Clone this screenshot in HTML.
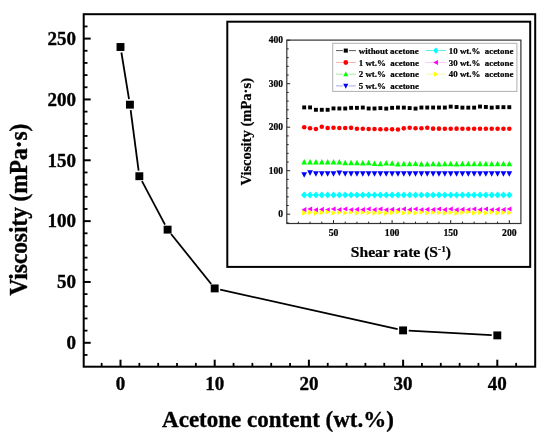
<!DOCTYPE html><html><head><meta charset="utf-8"><title>Viscosity vs acetone content</title><style>html,body{margin:0;padding:0;background:#fff}svg{display:block}text{font-family:"Liberation Serif",serif;font-weight:bold;fill:#000;stroke:#000;stroke-width:0.35px;stroke-linejoin:round}.s text{stroke-width:0.22px}</style></head><body>
<svg width="550" height="441" viewBox="0 0 550 441">
<rect width="550" height="441" fill="#fff"/>
<rect x="83.7" y="14.2" width="451.50000000000006" height="352.5" fill="none" stroke="#000" stroke-width="2"/>
<line x1="83.7" y1="354.97" x2="87.5" y2="354.97" stroke="#000" stroke-width="1.8"/>
<line x1="83.7" y1="342.80" x2="90.7" y2="342.80" stroke="#000" stroke-width="2"/>
<text x="76" y="349.10" font-size="19" text-anchor="end">0</text>
<line x1="83.7" y1="330.63" x2="87.5" y2="330.63" stroke="#000" stroke-width="1.8"/>
<line x1="83.7" y1="318.46" x2="87.5" y2="318.46" stroke="#000" stroke-width="1.8"/>
<line x1="83.7" y1="306.30" x2="87.5" y2="306.30" stroke="#000" stroke-width="1.8"/>
<line x1="83.7" y1="294.13" x2="87.5" y2="294.13" stroke="#000" stroke-width="1.8"/>
<line x1="83.7" y1="281.96" x2="90.7" y2="281.96" stroke="#000" stroke-width="2"/>
<text x="76" y="288.26" font-size="19" text-anchor="end">50</text>
<line x1="83.7" y1="269.79" x2="87.5" y2="269.79" stroke="#000" stroke-width="1.8"/>
<line x1="83.7" y1="257.62" x2="87.5" y2="257.62" stroke="#000" stroke-width="1.8"/>
<line x1="83.7" y1="245.46" x2="87.5" y2="245.46" stroke="#000" stroke-width="1.8"/>
<line x1="83.7" y1="233.29" x2="87.5" y2="233.29" stroke="#000" stroke-width="1.8"/>
<line x1="83.7" y1="221.12" x2="90.7" y2="221.12" stroke="#000" stroke-width="2"/>
<text x="76" y="227.42" font-size="19" text-anchor="end">100</text>
<line x1="83.7" y1="208.95" x2="87.5" y2="208.95" stroke="#000" stroke-width="1.8"/>
<line x1="83.7" y1="196.78" x2="87.5" y2="196.78" stroke="#000" stroke-width="1.8"/>
<line x1="83.7" y1="184.62" x2="87.5" y2="184.62" stroke="#000" stroke-width="1.8"/>
<line x1="83.7" y1="172.45" x2="87.5" y2="172.45" stroke="#000" stroke-width="1.8"/>
<line x1="83.7" y1="160.28" x2="90.7" y2="160.28" stroke="#000" stroke-width="2"/>
<text x="76" y="166.58" font-size="19" text-anchor="end">150</text>
<line x1="83.7" y1="148.11" x2="87.5" y2="148.11" stroke="#000" stroke-width="1.8"/>
<line x1="83.7" y1="135.94" x2="87.5" y2="135.94" stroke="#000" stroke-width="1.8"/>
<line x1="83.7" y1="123.78" x2="87.5" y2="123.78" stroke="#000" stroke-width="1.8"/>
<line x1="83.7" y1="111.61" x2="87.5" y2="111.61" stroke="#000" stroke-width="1.8"/>
<line x1="83.7" y1="99.44" x2="90.7" y2="99.44" stroke="#000" stroke-width="2"/>
<text x="76" y="105.74" font-size="19" text-anchor="end">200</text>
<line x1="83.7" y1="87.27" x2="87.5" y2="87.27" stroke="#000" stroke-width="1.8"/>
<line x1="83.7" y1="75.10" x2="87.5" y2="75.10" stroke="#000" stroke-width="1.8"/>
<line x1="83.7" y1="62.94" x2="87.5" y2="62.94" stroke="#000" stroke-width="1.8"/>
<line x1="83.7" y1="50.77" x2="87.5" y2="50.77" stroke="#000" stroke-width="1.8"/>
<line x1="83.7" y1="38.60" x2="90.7" y2="38.60" stroke="#000" stroke-width="2"/>
<text x="76" y="44.90" font-size="19" text-anchor="end">250</text>
<line x1="83.7" y1="26.43" x2="87.5" y2="26.43" stroke="#000" stroke-width="1.8"/>
<line x1="101.66" y1="366.7" x2="101.66" y2="362.9" stroke="#000" stroke-width="1.8"/>
<line x1="120.50" y1="366.7" x2="120.50" y2="359.7" stroke="#000" stroke-width="2"/>
<text x="120.50" y="390.4" font-size="19" text-anchor="middle">0</text>
<line x1="139.34" y1="366.7" x2="139.34" y2="362.9" stroke="#000" stroke-width="1.8"/>
<line x1="158.18" y1="366.7" x2="158.18" y2="362.9" stroke="#000" stroke-width="1.8"/>
<line x1="177.02" y1="366.7" x2="177.02" y2="362.9" stroke="#000" stroke-width="1.8"/>
<line x1="195.86" y1="366.7" x2="195.86" y2="362.9" stroke="#000" stroke-width="1.8"/>
<line x1="214.70" y1="366.7" x2="214.70" y2="359.7" stroke="#000" stroke-width="2"/>
<text x="214.70" y="390.4" font-size="19" text-anchor="middle">10</text>
<line x1="233.54" y1="366.7" x2="233.54" y2="362.9" stroke="#000" stroke-width="1.8"/>
<line x1="252.38" y1="366.7" x2="252.38" y2="362.9" stroke="#000" stroke-width="1.8"/>
<line x1="271.22" y1="366.7" x2="271.22" y2="362.9" stroke="#000" stroke-width="1.8"/>
<line x1="290.06" y1="366.7" x2="290.06" y2="362.9" stroke="#000" stroke-width="1.8"/>
<line x1="308.90" y1="366.7" x2="308.90" y2="359.7" stroke="#000" stroke-width="2"/>
<text x="308.90" y="390.4" font-size="19" text-anchor="middle">20</text>
<line x1="327.74" y1="366.7" x2="327.74" y2="362.9" stroke="#000" stroke-width="1.8"/>
<line x1="346.58" y1="366.7" x2="346.58" y2="362.9" stroke="#000" stroke-width="1.8"/>
<line x1="365.42" y1="366.7" x2="365.42" y2="362.9" stroke="#000" stroke-width="1.8"/>
<line x1="384.26" y1="366.7" x2="384.26" y2="362.9" stroke="#000" stroke-width="1.8"/>
<line x1="403.10" y1="366.7" x2="403.10" y2="359.7" stroke="#000" stroke-width="2"/>
<text x="403.10" y="390.4" font-size="19" text-anchor="middle">30</text>
<line x1="421.94" y1="366.7" x2="421.94" y2="362.9" stroke="#000" stroke-width="1.8"/>
<line x1="440.78" y1="366.7" x2="440.78" y2="362.9" stroke="#000" stroke-width="1.8"/>
<line x1="459.62" y1="366.7" x2="459.62" y2="362.9" stroke="#000" stroke-width="1.8"/>
<line x1="478.46" y1="366.7" x2="478.46" y2="362.9" stroke="#000" stroke-width="1.8"/>
<line x1="497.30" y1="366.7" x2="497.30" y2="359.7" stroke="#000" stroke-width="2"/>
<text x="497.30" y="390.4" font-size="19" text-anchor="middle">40</text>
<line x1="516.14" y1="366.7" x2="516.14" y2="362.9" stroke="#000" stroke-width="1.8"/>
<text x="278" y="426.5" font-size="23" text-anchor="middle">Acetone content (wt.%)</text>
<text transform="translate(27.2,209.7) rotate(-90) scale(1,1.05)" font-size="23.3" text-anchor="middle">Viscosity (mPa·s)</text>
<line x1="121.40" y1="52.52" x2="129.02" y2="99.15" stroke="#000" stroke-width="1.8"/>
<line x1="130.65" y1="110.22" x2="138.61" y2="170.67" stroke="#000" stroke-width="1.8"/>
<line x1="141.96" y1="181.17" x2="164.98" y2="224.69" stroke="#000" stroke-width="1.8"/>
<line x1="171.10" y1="234.01" x2="211.20" y2="284.04" stroke="#000" stroke-width="1.8"/>
<line x1="220.17" y1="289.63" x2="397.63" y2="329.17" stroke="#000" stroke-width="1.8"/>
<line x1="408.69" y1="330.68" x2="491.71" y2="335.08" stroke="#000" stroke-width="1.8"/>
<rect x="116.55" y="43.05" width="7.9" height="7.9" fill="#000"/>
<rect x="125.97" y="100.72" width="7.9" height="7.9" fill="#000"/>
<rect x="135.39" y="172.27" width="7.9" height="7.9" fill="#000"/>
<rect x="163.65" y="225.69" width="7.9" height="7.9" fill="#000"/>
<rect x="210.75" y="284.46" width="7.9" height="7.9" fill="#000"/>
<rect x="399.15" y="326.44" width="7.9" height="7.9" fill="#000"/>
<rect x="493.35" y="331.43" width="7.9" height="7.9" fill="#000"/>
<g class="s">
<rect x="227.3" y="21.7" width="302.90000000000003" height="245.2" fill="#fff" stroke="#000" stroke-width="2"/>
<rect x="286.8" y="40.1" width="234.09999999999997" height="183.4" fill="#fff" stroke="#333" stroke-width="1.2"/>
<line x1="286.8" y1="222.90" x2="288.7" y2="222.90" stroke="#222" stroke-width="1"/>
<line x1="286.8" y1="214.20" x2="290.2" y2="214.20" stroke="#222" stroke-width="1"/>
<text x="283" y="217.40" font-size="9.5" text-anchor="end">0</text>
<line x1="286.8" y1="205.50" x2="288.7" y2="205.50" stroke="#222" stroke-width="1"/>
<line x1="286.8" y1="196.80" x2="288.7" y2="196.80" stroke="#222" stroke-width="1"/>
<line x1="286.8" y1="188.10" x2="288.7" y2="188.10" stroke="#222" stroke-width="1"/>
<line x1="286.8" y1="179.40" x2="288.7" y2="179.40" stroke="#222" stroke-width="1"/>
<line x1="286.8" y1="170.70" x2="290.2" y2="170.70" stroke="#222" stroke-width="1"/>
<text x="283" y="173.90" font-size="9.5" text-anchor="end">100</text>
<line x1="286.8" y1="162.00" x2="288.7" y2="162.00" stroke="#222" stroke-width="1"/>
<line x1="286.8" y1="153.30" x2="288.7" y2="153.30" stroke="#222" stroke-width="1"/>
<line x1="286.8" y1="144.60" x2="288.7" y2="144.60" stroke="#222" stroke-width="1"/>
<line x1="286.8" y1="135.90" x2="288.7" y2="135.90" stroke="#222" stroke-width="1"/>
<line x1="286.8" y1="127.20" x2="290.2" y2="127.20" stroke="#222" stroke-width="1"/>
<text x="283" y="130.40" font-size="9.5" text-anchor="end">200</text>
<line x1="286.8" y1="118.50" x2="288.7" y2="118.50" stroke="#222" stroke-width="1"/>
<line x1="286.8" y1="109.80" x2="288.7" y2="109.80" stroke="#222" stroke-width="1"/>
<line x1="286.8" y1="101.10" x2="288.7" y2="101.10" stroke="#222" stroke-width="1"/>
<line x1="286.8" y1="92.40" x2="288.7" y2="92.40" stroke="#222" stroke-width="1"/>
<line x1="286.8" y1="83.70" x2="290.2" y2="83.70" stroke="#222" stroke-width="1"/>
<text x="283" y="86.90" font-size="9.5" text-anchor="end">300</text>
<line x1="286.8" y1="75.00" x2="288.7" y2="75.00" stroke="#222" stroke-width="1"/>
<line x1="286.8" y1="66.30" x2="288.7" y2="66.30" stroke="#222" stroke-width="1"/>
<line x1="286.8" y1="57.60" x2="288.7" y2="57.60" stroke="#222" stroke-width="1"/>
<line x1="286.8" y1="48.90" x2="288.7" y2="48.90" stroke="#222" stroke-width="1"/>
<line x1="286.8" y1="40.20" x2="290.2" y2="40.20" stroke="#222" stroke-width="1"/>
<text x="283" y="43.40" font-size="9.5" text-anchor="end">400</text>
<line x1="298.34" y1="223.5" x2="298.34" y2="221.6" stroke="#222" stroke-width="1"/>
<line x1="310.06" y1="223.5" x2="310.06" y2="221.6" stroke="#222" stroke-width="1"/>
<line x1="321.78" y1="223.5" x2="321.78" y2="221.6" stroke="#222" stroke-width="1"/>
<line x1="333.50" y1="223.5" x2="333.50" y2="220.1" stroke="#222" stroke-width="1"/>
<text x="333.50" y="235.8" font-size="9.7" text-anchor="middle">50</text>
<line x1="345.22" y1="223.5" x2="345.22" y2="221.6" stroke="#222" stroke-width="1"/>
<line x1="356.94" y1="223.5" x2="356.94" y2="221.6" stroke="#222" stroke-width="1"/>
<line x1="368.66" y1="223.5" x2="368.66" y2="221.6" stroke="#222" stroke-width="1"/>
<line x1="380.38" y1="223.5" x2="380.38" y2="221.6" stroke="#222" stroke-width="1"/>
<line x1="392.10" y1="223.5" x2="392.10" y2="220.1" stroke="#222" stroke-width="1"/>
<text x="392.10" y="235.8" font-size="9.7" text-anchor="middle">100</text>
<line x1="403.82" y1="223.5" x2="403.82" y2="221.6" stroke="#222" stroke-width="1"/>
<line x1="415.54" y1="223.5" x2="415.54" y2="221.6" stroke="#222" stroke-width="1"/>
<line x1="427.26" y1="223.5" x2="427.26" y2="221.6" stroke="#222" stroke-width="1"/>
<line x1="438.98" y1="223.5" x2="438.98" y2="221.6" stroke="#222" stroke-width="1"/>
<line x1="450.70" y1="223.5" x2="450.70" y2="220.1" stroke="#222" stroke-width="1"/>
<text x="450.70" y="235.8" font-size="9.7" text-anchor="middle">150</text>
<line x1="462.42" y1="223.5" x2="462.42" y2="221.6" stroke="#222" stroke-width="1"/>
<line x1="474.14" y1="223.5" x2="474.14" y2="221.6" stroke="#222" stroke-width="1"/>
<line x1="485.86" y1="223.5" x2="485.86" y2="221.6" stroke="#222" stroke-width="1"/>
<line x1="497.58" y1="223.5" x2="497.58" y2="221.6" stroke="#222" stroke-width="1"/>
<line x1="509.30" y1="223.5" x2="509.30" y2="220.1" stroke="#222" stroke-width="1"/>
<text x="509.30" y="235.8" font-size="9.7" text-anchor="middle">200</text>
<text transform="translate(250.8,131.8) rotate(-90) scale(1,1.04)" font-size="14.6" text-anchor="middle">Viscosity (mPa·s)</text>
<text transform="translate(350.8,256.9) scale(1.1,1)" font-size="14.2">Shear rate (S<tspan font-size="8.5" dy="-5">-1</tspan><tspan dy="5">)</tspan></text>
<rect x="332.7" y="43.3" width="184.2" height="48.10000000000001" fill="#fff" stroke="#b0b0b0" stroke-width="1"/>
<line x1="336" y1="50.6" x2="342.90000000000003" y2="50.6" stroke="#5a5a5a" stroke-width="1"/>
<line x1="348.90000000000003" y1="50.6" x2="355.9" y2="50.6" stroke="#5a5a5a" stroke-width="1"/>
<rect x="343.75" y="48.55" width="4.09" height="4.09" fill="#000"/>
<text x="358.8" y="53.60" font-size="8.9" xml:space="preserve">without acetone</text>
<line x1="336" y1="62.5" x2="342.90000000000003" y2="62.5" stroke="#f8b4b4" stroke-width="1"/>
<line x1="348.90000000000003" y1="62.5" x2="355.9" y2="62.5" stroke="#f8b4b4" stroke-width="1"/>
<circle cx="345.80" cy="62.50" r="2.42" fill="#ff0000"/>
<text x="358.8" y="65.50" font-size="8.9" xml:space="preserve">1 wt.%  acetone</text>
<line x1="336" y1="74.2" x2="342.90000000000003" y2="74.2" stroke="#a4eca4" stroke-width="1"/>
<line x1="348.90000000000003" y1="74.2" x2="355.9" y2="74.2" stroke="#a4eca4" stroke-width="1"/>
<polygon fill="#00ff00" points="345.80,71.41 348.41,76.36 343.19,76.36"/>
<text x="358.8" y="77.20" font-size="8.9" xml:space="preserve">2 wt.%  acetone</text>
<line x1="336" y1="85.9" x2="342.90000000000003" y2="85.9" stroke="#a6a6ea" stroke-width="1"/>
<line x1="348.90000000000003" y1="85.9" x2="355.9" y2="85.9" stroke="#a6a6ea" stroke-width="1"/>
<polygon fill="#0000ff" points="345.80,88.69 348.41,83.74 343.19,83.74"/>
<text x="358.8" y="88.90" font-size="8.9" xml:space="preserve">5 wt.%  acetone</text>
<line x1="425.8" y1="50.6" x2="433.0" y2="50.6" stroke="#5ee8e8" stroke-width="1"/>
<line x1="439.0" y1="50.6" x2="446.2" y2="50.6" stroke="#5ee8e8" stroke-width="1"/>
<polygon fill="#00ffff" points="435.90,47.45 438.78,50.60 435.90,53.75 433.02,50.60"/>
<text x="448.8" y="53.60" font-size="8.9" xml:space="preserve">10 wt.%  acetone</text>
<line x1="425.8" y1="62.5" x2="433.0" y2="62.5" stroke="#f8ccf4" stroke-width="1"/>
<line x1="439.0" y1="62.5" x2="446.2" y2="62.5" stroke="#f8ccf4" stroke-width="1"/>
<polygon fill="#ff00ff" points="433.11,62.50 438.06,59.89 438.06,65.11"/>
<text x="448.8" y="65.50" font-size="8.9" xml:space="preserve">30 wt.%  acetone</text>
<line x1="425.8" y1="74.2" x2="433.0" y2="74.2" stroke="#f5f5b0" stroke-width="1"/>
<line x1="439.0" y1="74.2" x2="446.2" y2="74.2" stroke="#f5f5b0" stroke-width="1"/>
<polygon fill="#ffff00" points="438.69,74.20 433.74,71.59 433.74,76.81"/>
<text x="448.8" y="77.20" font-size="8.9" xml:space="preserve">40 wt.%  acetone</text>
<rect x="302.25" y="105.46" width="3.90" height="3.90" fill="#000"/>
<rect x="308.11" y="105.46" width="3.90" height="3.90" fill="#000"/>
<rect x="313.97" y="107.85" width="3.90" height="3.90" fill="#000"/>
<rect x="319.83" y="107.85" width="3.90" height="3.90" fill="#000"/>
<rect x="325.69" y="107.85" width="3.90" height="3.90" fill="#000"/>
<rect x="331.55" y="106.46" width="3.90" height="3.90" fill="#000"/>
<rect x="337.41" y="106.54" width="3.90" height="3.90" fill="#000"/>
<rect x="343.27" y="106.54" width="3.90" height="3.90" fill="#000"/>
<rect x="349.13" y="105.89" width="3.90" height="3.90" fill="#000"/>
<rect x="354.99" y="105.89" width="3.90" height="3.90" fill="#000"/>
<rect x="360.85" y="105.59" width="3.90" height="3.90" fill="#000"/>
<rect x="366.71" y="106.54" width="3.90" height="3.90" fill="#000"/>
<rect x="372.57" y="106.54" width="3.90" height="3.90" fill="#000"/>
<rect x="378.43" y="106.15" width="3.90" height="3.90" fill="#000"/>
<rect x="384.29" y="106.68" width="3.90" height="3.90" fill="#000"/>
<rect x="390.15" y="105.89" width="3.90" height="3.90" fill="#000"/>
<rect x="396.01" y="105.59" width="3.90" height="3.90" fill="#000"/>
<rect x="401.87" y="105.67" width="3.90" height="3.90" fill="#000"/>
<rect x="407.73" y="106.11" width="3.90" height="3.90" fill="#000"/>
<rect x="413.59" y="106.63" width="3.90" height="3.90" fill="#000"/>
<rect x="419.45" y="105.59" width="3.90" height="3.90" fill="#000"/>
<rect x="425.31" y="105.59" width="3.90" height="3.90" fill="#000"/>
<rect x="431.17" y="105.59" width="3.90" height="3.90" fill="#000"/>
<rect x="437.03" y="105.59" width="3.90" height="3.90" fill="#000"/>
<rect x="442.89" y="105.59" width="3.90" height="3.90" fill="#000"/>
<rect x="448.75" y="104.67" width="3.90" height="3.90" fill="#000"/>
<rect x="454.61" y="105.07" width="3.90" height="3.90" fill="#000"/>
<rect x="460.47" y="105.67" width="3.90" height="3.90" fill="#000"/>
<rect x="466.33" y="105.67" width="3.90" height="3.90" fill="#000"/>
<rect x="472.19" y="105.67" width="3.90" height="3.90" fill="#000"/>
<rect x="478.05" y="104.59" width="3.90" height="3.90" fill="#000"/>
<rect x="483.91" y="105.02" width="3.90" height="3.90" fill="#000"/>
<rect x="489.77" y="105.67" width="3.90" height="3.90" fill="#000"/>
<rect x="495.63" y="105.24" width="3.90" height="3.90" fill="#000"/>
<rect x="501.49" y="105.24" width="3.90" height="3.90" fill="#000"/>
<rect x="507.35" y="105.24" width="3.90" height="3.90" fill="#000"/>
<circle cx="304.20" cy="127.29" r="2.30" fill="#ff0000"/>
<circle cx="310.06" cy="128.20" r="2.30" fill="#ff0000"/>
<circle cx="315.92" cy="128.98" r="2.30" fill="#ff0000"/>
<circle cx="321.78" cy="126.81" r="2.30" fill="#ff0000"/>
<circle cx="327.64" cy="127.98" r="2.30" fill="#ff0000"/>
<circle cx="333.50" cy="127.81" r="2.30" fill="#ff0000"/>
<circle cx="339.36" cy="128.07" r="2.30" fill="#ff0000"/>
<circle cx="345.22" cy="128.07" r="2.30" fill="#ff0000"/>
<circle cx="351.08" cy="127.85" r="2.30" fill="#ff0000"/>
<circle cx="356.94" cy="128.81" r="2.30" fill="#ff0000"/>
<circle cx="362.80" cy="128.81" r="2.30" fill="#ff0000"/>
<circle cx="368.66" cy="128.94" r="2.30" fill="#ff0000"/>
<circle cx="374.52" cy="128.94" r="2.30" fill="#ff0000"/>
<circle cx="380.38" cy="129.29" r="2.30" fill="#ff0000"/>
<circle cx="386.24" cy="129.29" r="2.30" fill="#ff0000"/>
<circle cx="392.10" cy="129.29" r="2.30" fill="#ff0000"/>
<circle cx="397.96" cy="129.51" r="2.30" fill="#ff0000"/>
<circle cx="403.82" cy="128.33" r="2.30" fill="#ff0000"/>
<circle cx="409.68" cy="127.72" r="2.30" fill="#ff0000"/>
<circle cx="415.54" cy="128.20" r="2.30" fill="#ff0000"/>
<circle cx="421.40" cy="128.20" r="2.30" fill="#ff0000"/>
<circle cx="427.26" cy="127.72" r="2.30" fill="#ff0000"/>
<circle cx="433.12" cy="128.64" r="2.30" fill="#ff0000"/>
<circle cx="438.98" cy="128.64" r="2.30" fill="#ff0000"/>
<circle cx="444.84" cy="128.81" r="2.30" fill="#ff0000"/>
<circle cx="450.70" cy="128.81" r="2.30" fill="#ff0000"/>
<circle cx="456.56" cy="128.64" r="2.30" fill="#ff0000"/>
<circle cx="462.42" cy="128.81" r="2.30" fill="#ff0000"/>
<circle cx="468.28" cy="128.81" r="2.30" fill="#ff0000"/>
<circle cx="474.14" cy="128.81" r="2.30" fill="#ff0000"/>
<circle cx="480.00" cy="128.81" r="2.30" fill="#ff0000"/>
<circle cx="485.86" cy="128.81" r="2.30" fill="#ff0000"/>
<circle cx="491.72" cy="128.81" r="2.30" fill="#ff0000"/>
<circle cx="497.58" cy="128.81" r="2.30" fill="#ff0000"/>
<circle cx="503.44" cy="128.81" r="2.30" fill="#ff0000"/>
<circle cx="509.30" cy="128.81" r="2.30" fill="#ff0000"/>
<polygon fill="#00ff00" points="304.20,158.90 307.10,164.40 301.30,164.40"/>
<polygon fill="#00ff00" points="310.06,158.90 312.96,164.40 307.16,164.40"/>
<polygon fill="#00ff00" points="315.92,158.90 318.82,164.40 313.02,164.40"/>
<polygon fill="#00ff00" points="321.78,158.90 324.68,164.40 318.88,164.40"/>
<polygon fill="#00ff00" points="327.64,158.90 330.54,164.40 324.74,164.40"/>
<polygon fill="#00ff00" points="333.50,158.90 336.40,164.40 330.60,164.40"/>
<polygon fill="#00ff00" points="339.36,158.90 342.26,164.40 336.46,164.40"/>
<polygon fill="#00ff00" points="345.22,159.77 348.12,165.27 342.32,165.27"/>
<polygon fill="#00ff00" points="351.08,159.77 353.98,165.27 348.18,165.27"/>
<polygon fill="#00ff00" points="356.94,159.77 359.84,165.27 354.04,165.27"/>
<polygon fill="#00ff00" points="362.80,160.07 365.70,165.57 359.90,165.57"/>
<polygon fill="#00ff00" points="368.66,159.77 371.56,165.27 365.76,165.27"/>
<polygon fill="#00ff00" points="374.52,160.42 377.42,165.92 371.62,165.92"/>
<polygon fill="#00ff00" points="380.38,160.64 383.28,166.14 377.48,166.14"/>
<polygon fill="#00ff00" points="386.24,160.07 389.14,165.57 383.34,165.57"/>
<polygon fill="#00ff00" points="392.10,160.20 395.00,165.70 389.20,165.70"/>
<polygon fill="#00ff00" points="397.96,160.99 400.86,166.49 395.06,166.49"/>
<polygon fill="#00ff00" points="403.82,160.64 406.72,166.14 400.92,166.14"/>
<polygon fill="#00ff00" points="409.68,160.64 412.58,166.14 406.78,166.14"/>
<polygon fill="#00ff00" points="415.54,160.42 418.44,165.92 412.64,165.92"/>
<polygon fill="#00ff00" points="421.40,160.99 424.30,166.49 418.50,166.49"/>
<polygon fill="#00ff00" points="427.26,160.99 430.16,166.49 424.36,166.49"/>
<polygon fill="#00ff00" points="433.12,160.64 436.02,166.14 430.22,166.14"/>
<polygon fill="#00ff00" points="438.98,160.99 441.88,166.49 436.08,166.49"/>
<polygon fill="#00ff00" points="444.84,160.64 447.74,166.14 441.94,166.14"/>
<polygon fill="#00ff00" points="450.70,160.64 453.60,166.14 447.80,166.14"/>
<polygon fill="#00ff00" points="456.56,160.99 459.46,166.49 453.66,166.49"/>
<polygon fill="#00ff00" points="462.42,160.86 465.32,166.36 459.52,166.36"/>
<polygon fill="#00ff00" points="468.28,160.86 471.18,166.36 465.38,166.36"/>
<polygon fill="#00ff00" points="474.14,160.86 477.04,166.36 471.24,166.36"/>
<polygon fill="#00ff00" points="480.00,160.86 482.90,166.36 477.10,166.36"/>
<polygon fill="#00ff00" points="485.86,160.86 488.76,166.36 482.96,166.36"/>
<polygon fill="#00ff00" points="491.72,160.86 494.62,166.36 488.82,166.36"/>
<polygon fill="#00ff00" points="497.58,160.86 500.48,166.36 494.68,166.36"/>
<polygon fill="#00ff00" points="503.44,160.86 506.34,166.36 500.54,166.36"/>
<polygon fill="#00ff00" points="509.30,160.86 512.20,166.36 506.40,166.36"/>
<polygon fill="#0000ff" points="304.20,177.71 307.10,172.21 301.30,172.21"/>
<polygon fill="#0000ff" points="310.06,175.76 312.96,170.26 307.16,170.26"/>
<polygon fill="#0000ff" points="315.92,176.84 318.82,171.34 313.02,171.34"/>
<polygon fill="#0000ff" points="321.78,176.84 324.68,171.34 318.88,171.34"/>
<polygon fill="#0000ff" points="327.64,176.84 330.54,171.34 324.74,171.34"/>
<polygon fill="#0000ff" points="333.50,176.84 336.40,171.34 330.60,171.34"/>
<polygon fill="#0000ff" points="339.36,175.97 342.26,170.47 336.46,170.47"/>
<polygon fill="#0000ff" points="345.22,176.84 348.12,171.34 342.32,171.34"/>
<polygon fill="#0000ff" points="351.08,176.84 353.98,171.34 348.18,171.34"/>
<polygon fill="#0000ff" points="356.94,176.84 359.84,171.34 354.04,171.34"/>
<polygon fill="#0000ff" points="362.80,176.84 365.70,171.34 359.90,171.34"/>
<polygon fill="#0000ff" points="368.66,176.84 371.56,171.34 365.76,171.34"/>
<polygon fill="#0000ff" points="374.52,176.84 377.42,171.34 371.62,171.34"/>
<polygon fill="#0000ff" points="380.38,176.84 383.28,171.34 377.48,171.34"/>
<polygon fill="#0000ff" points="386.24,176.84 389.14,171.34 383.34,171.34"/>
<polygon fill="#0000ff" points="392.10,176.84 395.00,171.34 389.20,171.34"/>
<polygon fill="#0000ff" points="397.96,176.84 400.86,171.34 395.06,171.34"/>
<polygon fill="#0000ff" points="403.82,176.84 406.72,171.34 400.92,171.34"/>
<polygon fill="#0000ff" points="409.68,176.84 412.58,171.34 406.78,171.34"/>
<polygon fill="#0000ff" points="415.54,176.84 418.44,171.34 412.64,171.34"/>
<polygon fill="#0000ff" points="421.40,176.84 424.30,171.34 418.50,171.34"/>
<polygon fill="#0000ff" points="427.26,176.84 430.16,171.34 424.36,171.34"/>
<polygon fill="#0000ff" points="433.12,176.84 436.02,171.34 430.22,171.34"/>
<polygon fill="#0000ff" points="438.98,176.84 441.88,171.34 436.08,171.34"/>
<polygon fill="#0000ff" points="444.84,176.84 447.74,171.34 441.94,171.34"/>
<polygon fill="#0000ff" points="450.70,176.84 453.60,171.34 447.80,171.34"/>
<polygon fill="#0000ff" points="456.56,176.84 459.46,171.34 453.66,171.34"/>
<polygon fill="#0000ff" points="462.42,176.84 465.32,171.34 459.52,171.34"/>
<polygon fill="#0000ff" points="468.28,176.84 471.18,171.34 465.38,171.34"/>
<polygon fill="#0000ff" points="474.14,176.84 477.04,171.34 471.24,171.34"/>
<polygon fill="#0000ff" points="480.00,176.84 482.90,171.34 477.10,171.34"/>
<polygon fill="#0000ff" points="485.86,176.84 488.76,171.34 482.96,171.34"/>
<polygon fill="#0000ff" points="491.72,176.84 494.62,171.34 488.82,171.34"/>
<polygon fill="#0000ff" points="497.58,176.84 500.48,171.34 494.68,171.34"/>
<polygon fill="#0000ff" points="503.44,176.84 506.34,171.34 500.54,171.34"/>
<polygon fill="#0000ff" points="509.30,176.84 512.20,171.34 506.40,171.34"/>
<polygon fill="#00ffff" points="304.20,191.56 307.40,195.06 304.20,198.56 301.00,195.06"/>
<polygon fill="#00ffff" points="310.06,191.56 313.26,195.06 310.06,198.56 306.86,195.06"/>
<polygon fill="#00ffff" points="315.92,191.56 319.12,195.06 315.92,198.56 312.72,195.06"/>
<polygon fill="#00ffff" points="321.78,191.56 324.98,195.06 321.78,198.56 318.58,195.06"/>
<polygon fill="#00ffff" points="327.64,191.56 330.84,195.06 327.64,198.56 324.44,195.06"/>
<polygon fill="#00ffff" points="333.50,191.56 336.70,195.06 333.50,198.56 330.30,195.06"/>
<polygon fill="#00ffff" points="339.36,191.56 342.56,195.06 339.36,198.56 336.16,195.06"/>
<polygon fill="#00ffff" points="345.22,191.56 348.42,195.06 345.22,198.56 342.02,195.06"/>
<polygon fill="#00ffff" points="351.08,191.56 354.28,195.06 351.08,198.56 347.88,195.06"/>
<polygon fill="#00ffff" points="356.94,191.56 360.14,195.06 356.94,198.56 353.74,195.06"/>
<polygon fill="#00ffff" points="362.80,191.56 366.00,195.06 362.80,198.56 359.60,195.06"/>
<polygon fill="#00ffff" points="368.66,191.56 371.86,195.06 368.66,198.56 365.46,195.06"/>
<polygon fill="#00ffff" points="374.52,191.56 377.72,195.06 374.52,198.56 371.32,195.06"/>
<polygon fill="#00ffff" points="380.38,191.56 383.58,195.06 380.38,198.56 377.18,195.06"/>
<polygon fill="#00ffff" points="386.24,191.56 389.44,195.06 386.24,198.56 383.04,195.06"/>
<polygon fill="#00ffff" points="392.10,191.56 395.30,195.06 392.10,198.56 388.90,195.06"/>
<polygon fill="#00ffff" points="397.96,191.56 401.16,195.06 397.96,198.56 394.76,195.06"/>
<polygon fill="#00ffff" points="403.82,191.56 407.02,195.06 403.82,198.56 400.62,195.06"/>
<polygon fill="#00ffff" points="409.68,191.56 412.88,195.06 409.68,198.56 406.48,195.06"/>
<polygon fill="#00ffff" points="415.54,191.56 418.74,195.06 415.54,198.56 412.34,195.06"/>
<polygon fill="#00ffff" points="421.40,191.56 424.60,195.06 421.40,198.56 418.20,195.06"/>
<polygon fill="#00ffff" points="427.26,191.56 430.46,195.06 427.26,198.56 424.06,195.06"/>
<polygon fill="#00ffff" points="433.12,191.56 436.32,195.06 433.12,198.56 429.92,195.06"/>
<polygon fill="#00ffff" points="438.98,191.56 442.18,195.06 438.98,198.56 435.78,195.06"/>
<polygon fill="#00ffff" points="444.84,191.56 448.04,195.06 444.84,198.56 441.64,195.06"/>
<polygon fill="#00ffff" points="450.70,191.56 453.90,195.06 450.70,198.56 447.50,195.06"/>
<polygon fill="#00ffff" points="456.56,191.56 459.76,195.06 456.56,198.56 453.36,195.06"/>
<polygon fill="#00ffff" points="462.42,191.56 465.62,195.06 462.42,198.56 459.22,195.06"/>
<polygon fill="#00ffff" points="468.28,191.56 471.48,195.06 468.28,198.56 465.08,195.06"/>
<polygon fill="#00ffff" points="474.14,191.56 477.34,195.06 474.14,198.56 470.94,195.06"/>
<polygon fill="#00ffff" points="480.00,191.56 483.20,195.06 480.00,198.56 476.80,195.06"/>
<polygon fill="#00ffff" points="485.86,191.56 489.06,195.06 485.86,198.56 482.66,195.06"/>
<polygon fill="#00ffff" points="491.72,191.56 494.92,195.06 491.72,198.56 488.52,195.06"/>
<polygon fill="#00ffff" points="497.58,191.56 500.78,195.06 497.58,198.56 494.38,195.06"/>
<polygon fill="#00ffff" points="503.44,191.56 506.64,195.06 503.44,198.56 500.24,195.06"/>
<polygon fill="#00ffff" points="509.30,191.56 512.50,195.06 509.30,198.56 506.10,195.06"/>
<polygon fill="#ff00ff" points="301.47,209.63 306.31,207.08 306.31,212.18"/>
<polygon fill="#ff00ff" points="307.33,208.98 312.17,206.43 312.17,211.53"/>
<polygon fill="#ff00ff" points="313.19,209.85 318.03,207.30 318.03,212.40"/>
<polygon fill="#ff00ff" points="319.05,209.41 323.89,206.86 323.89,211.97"/>
<polygon fill="#ff00ff" points="324.91,209.85 329.75,207.30 329.75,212.40"/>
<polygon fill="#ff00ff" points="330.77,208.98 335.61,206.43 335.61,211.53"/>
<polygon fill="#ff00ff" points="336.63,209.63 341.47,207.08 341.47,212.18"/>
<polygon fill="#ff00ff" points="342.49,208.98 347.33,206.43 347.33,211.53"/>
<polygon fill="#ff00ff" points="348.35,209.85 353.19,207.30 353.19,212.40"/>
<polygon fill="#ff00ff" points="354.21,209.41 359.05,206.86 359.05,211.97"/>
<polygon fill="#ff00ff" points="360.07,209.63 364.91,207.08 364.91,212.18"/>
<polygon fill="#ff00ff" points="365.93,208.98 370.77,206.43 370.77,211.53"/>
<polygon fill="#ff00ff" points="371.79,209.63 376.63,207.08 376.63,212.18"/>
<polygon fill="#ff00ff" points="377.65,208.98 382.49,206.43 382.49,211.53"/>
<polygon fill="#ff00ff" points="383.51,209.85 388.35,207.30 388.35,212.40"/>
<polygon fill="#ff00ff" points="389.37,209.41 394.21,206.86 394.21,211.97"/>
<polygon fill="#ff00ff" points="395.23,209.85 400.07,207.30 400.07,212.40"/>
<polygon fill="#ff00ff" points="401.09,208.98 405.93,206.43 405.93,211.53"/>
<polygon fill="#ff00ff" points="406.95,209.63 411.79,207.08 411.79,212.18"/>
<polygon fill="#ff00ff" points="412.81,208.98 417.65,206.43 417.65,211.53"/>
<polygon fill="#ff00ff" points="418.67,209.85 423.51,207.30 423.51,212.40"/>
<polygon fill="#ff00ff" points="424.53,209.41 429.37,206.86 429.37,211.97"/>
<polygon fill="#ff00ff" points="430.39,209.63 435.23,207.08 435.23,212.18"/>
<polygon fill="#ff00ff" points="436.25,208.98 441.09,206.43 441.09,211.53"/>
<polygon fill="#ff00ff" points="442.11,209.63 446.95,207.08 446.95,212.18"/>
<polygon fill="#ff00ff" points="447.97,208.98 452.81,206.43 452.81,211.53"/>
<polygon fill="#ff00ff" points="453.83,209.85 458.67,207.30 458.67,212.40"/>
<polygon fill="#ff00ff" points="459.69,209.41 464.53,206.86 464.53,211.97"/>
<polygon fill="#ff00ff" points="465.55,209.85 470.39,207.30 470.39,212.40"/>
<polygon fill="#ff00ff" points="471.41,208.98 476.25,206.43 476.25,211.53"/>
<polygon fill="#ff00ff" points="477.27,209.63 482.11,207.08 482.11,212.18"/>
<polygon fill="#ff00ff" points="483.13,208.98 487.97,206.43 487.97,211.53"/>
<polygon fill="#ff00ff" points="488.99,209.85 493.83,207.30 493.83,212.40"/>
<polygon fill="#ff00ff" points="494.85,209.41 499.69,206.86 499.69,211.97"/>
<polygon fill="#ff00ff" points="500.71,209.63 505.55,207.08 505.55,212.18"/>
<polygon fill="#ff00ff" points="506.57,208.98 511.41,206.43 511.41,211.53"/>
<polygon fill="#ffff00" points="306.93,212.89 302.09,210.34 302.09,215.45"/>
<polygon fill="#ffff00" points="312.79,212.46 307.95,209.91 307.95,215.01"/>
<polygon fill="#ffff00" points="318.65,213.11 313.81,210.56 313.81,215.66"/>
<polygon fill="#ffff00" points="324.51,212.46 319.67,209.91 319.67,215.01"/>
<polygon fill="#ffff00" points="330.37,212.02 325.53,209.47 325.53,214.58"/>
<polygon fill="#ffff00" points="336.23,212.89 331.39,210.34 331.39,215.45"/>
<polygon fill="#ffff00" points="342.09,212.46 337.25,209.91 337.25,215.01"/>
<polygon fill="#ffff00" points="347.95,212.89 343.11,210.34 343.11,215.45"/>
<polygon fill="#ffff00" points="353.81,212.24 348.97,209.69 348.97,214.79"/>
<polygon fill="#ffff00" points="359.67,212.89 354.83,210.34 354.83,215.45"/>
<polygon fill="#ffff00" points="365.53,212.46 360.69,209.91 360.69,215.01"/>
<polygon fill="#ffff00" points="371.39,212.68 366.55,210.13 366.55,215.23"/>
<polygon fill="#ffff00" points="377.25,212.89 372.41,210.34 372.41,215.45"/>
<polygon fill="#ffff00" points="383.11,212.46 378.27,209.91 378.27,215.01"/>
<polygon fill="#ffff00" points="388.97,213.11 384.13,210.56 384.13,215.66"/>
<polygon fill="#ffff00" points="394.83,212.46 389.99,209.91 389.99,215.01"/>
<polygon fill="#ffff00" points="400.69,212.02 395.85,209.47 395.85,214.58"/>
<polygon fill="#ffff00" points="406.55,212.89 401.71,210.34 401.71,215.45"/>
<polygon fill="#ffff00" points="412.41,212.46 407.57,209.91 407.57,215.01"/>
<polygon fill="#ffff00" points="418.27,212.89 413.43,210.34 413.43,215.45"/>
<polygon fill="#ffff00" points="424.13,212.24 419.29,209.69 419.29,214.79"/>
<polygon fill="#ffff00" points="429.99,212.89 425.15,210.34 425.15,215.45"/>
<polygon fill="#ffff00" points="435.85,212.46 431.01,209.91 431.01,215.01"/>
<polygon fill="#ffff00" points="441.71,212.68 436.87,210.13 436.87,215.23"/>
<polygon fill="#ffff00" points="447.57,212.89 442.73,210.34 442.73,215.45"/>
<polygon fill="#ffff00" points="453.43,212.46 448.59,209.91 448.59,215.01"/>
<polygon fill="#ffff00" points="459.29,213.11 454.45,210.56 454.45,215.66"/>
<polygon fill="#ffff00" points="465.15,212.46 460.31,209.91 460.31,215.01"/>
<polygon fill="#ffff00" points="471.01,212.02 466.17,209.47 466.17,214.58"/>
<polygon fill="#ffff00" points="476.87,212.89 472.03,210.34 472.03,215.45"/>
<polygon fill="#ffff00" points="482.73,212.46 477.89,209.91 477.89,215.01"/>
<polygon fill="#ffff00" points="488.59,212.89 483.75,210.34 483.75,215.45"/>
<polygon fill="#ffff00" points="494.45,212.24 489.61,209.69 489.61,214.79"/>
<polygon fill="#ffff00" points="500.31,212.89 495.47,210.34 495.47,215.45"/>
<polygon fill="#ffff00" points="506.17,212.46 501.33,209.91 501.33,215.01"/>
<polygon fill="#ffff00" points="512.03,212.68 507.19,210.13 507.19,215.23"/>
</g>
</svg></body></html>
